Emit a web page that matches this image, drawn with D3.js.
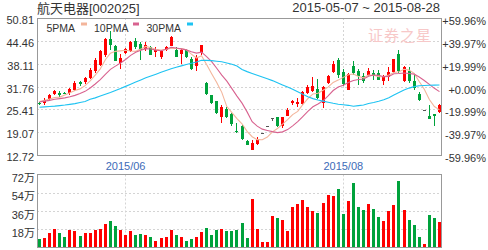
<!DOCTYPE html>
<html>
<head>
<meta charset="utf-8">
<style>
    body { margin: 0; background: #fff; }
    svg text { font-family: "Liberation Sans", Arial, "Noto Sans CJK SC", sans-serif; fill: #333; }
    .grid line { stroke: #d4d4d4; stroke-dasharray: 2,2; }
    .frame { fill: none; stroke: #999; }
</style>
<script src="https://cdn.jsdelivr.net/npm/d3@7"></script>
</head>
<body>
<svg width="488" height="250"></svg>
<script>
// trading days shown in the chart
var dates = [
    "2015-05-07","2015-05-08","2015-05-11","2015-05-12","2015-05-13","2015-05-14","2015-05-15","2015-05-18","2015-05-19","2015-05-20",
    "2015-05-21","2015-05-22","2015-05-25","2015-05-26","2015-05-27","2015-05-28","2015-05-29","2015-06-01","2015-06-02","2015-06-03",
    "2015-06-04","2015-06-05","2015-06-08","2015-06-09","2015-06-10","2015-06-11","2015-06-12","2015-06-15","2015-06-16","2015-06-17",
    "2015-06-18","2015-06-19","2015-06-23","2015-06-24","2015-06-25","2015-06-26","2015-06-29","2015-06-30","2015-07-01","2015-07-02",
    "2015-07-06","2015-07-07","2015-07-08","2015-07-09","2015-07-10","2015-07-13","2015-07-14","2015-07-15","2015-07-16","2015-07-17",
    "2015-07-20","2015-07-21","2015-07-22","2015-07-23","2015-07-24","2015-07-27","2015-07-28","2015-07-29","2015-07-30","2015-07-31",
    "2015-08-03","2015-08-04","2015-08-05","2015-08-06","2015-08-07","2015-08-10","2015-08-11","2015-08-12","2015-08-13","2015-08-14",
    "2015-08-17","2015-08-18","2015-08-19","2015-08-20","2015-08-21","2015-08-24","2015-08-25","2015-08-26","2015-08-27","2015-08-28"
];
var opens = [
    27.2,27.1,28.2,29.7,30.0,30.0,29.9,30.7,32.9,32.9, 34.1,36.2,37.8,40.6,45.1,42.9,38.3,41.2,41.5,44.5,
    43.6,42.3,42.7,41.4,39.9,41.8,43.1,42.0,40.8,41.8, 39.5,37.4,41.0,32.7,29.3,27.6,23.2,25.4,24.0,19.3,
    20.7,16.7,14.2,15.8,18.9,20.8,22.9,23.2,20.7,23.7, 27.2,26.9,26.9,30.0,30.6,31.2,27.2,32.7,35.8,39.0,
    35.7,30.9,37.4,36.2,34.6,34.9,35.5,35.5,33.2,34.3, 35.8,40.8,33.2,36.0,33.2,29.7,25.3,23.6,24.1,24.7
];
var highs = [
    27.4,28.6,29.7,30.8,30.4,30.3,31.3,33.2,33.2,34.5, 36.9,39.7,42.0,45.3,47.1,43.2,40.8,42.6,44.3,45.2,
    44.0,44.1,42.9,42.7,42.0,42.9,45.7,42.7,42.3,42.3, 39.9,40.6,43.4,32.9,29.5,27.8,26.5,26.0,24.3,21.6,
    21.1,17.0,17.0,17.6,18.9,20.8,22.9,23.4,23.4,25.8, 28.1,28.6,30.6,32.3,34.3,33.9,31.8,34.9,38.8,39.7,
    36.5,35.5,38.8,36.7,35.5,36.9,36.4,36.4,35.0,37.1, 39.5,42.0,37.4,37.1,34.9,30.2,25.3,26.6,24.1,26.8
];
var lows = [
    26.6,26.5,27.8,29.3,28.9,29.6,29.5,30.4,32.0,32.5, 33.8,35.5,37.4,40.1,42.0,38.8,36.7,40.8,41.4,42.3,
    39.2,41.5,40.4,40.1,39.5,41.5,42.9,40.0,38.1,39.7, 36.4,36.2,40.6,29.5,26.9,24.1,21.6,23.0,20.7,18.9,
    17.0,15.4,14.0,15.4,18.9,20.8,22.3,20.5,20.3,23.5, 26.5,26.2,26.5,29.7,30.2,28.4,25.8,32.5,35.5,34.1,
    32.0,30.7,35.0,32.3,32.7,34.6,33.7,33.7,32.3,33.4, 35.5,35.5,33.0,32.7,30.9,27.8,25.3,22.8,20.7,24.5
];
var closes = [
    26.9,28.0,29.3,30.4,29.5,29.8,31.0,32.7,32.5,34.0, 36.4,39.0,41.5,45.1,43.2,38.9,39.7,42.3,44.1,42.7,
    42.0,43.4,40.6,42.0,41.5,42.7,45.4,40.1,41.8,39.9, 36.7,39.9,43.2,29.7,27.2,24.4,26.2,23.4,21.2,19.0,
    17.2,15.6,16.0,17.2,18.9,20.8,22.9,20.7,23.2,25.3, 27.6,27.4,30.2,31.5,31.8,28.6,31.5,34.6,38.0,35.0,
    32.4,35.2,35.5,34.6,33.2,36.2,34.9,33.7,34.3,35.8, 39.5,36.0,37.1,33.2,31.3,28.1,25.3,22.8,23.5,26.6
];
// volume, in 万 (10k shares)
var volumes = [
    7.9,8.9,13.9,17.8,13.9,9.9,16.8,15.8,10.9,13.9, 13.9,16.8,17.8,22.8,25.7,20.8,16.8,11.9,15.8,11.9,
    12.9,11.9,9.9,6.9,8.9,9.9,16.8,11.9,9.9,6.9, 7.9,9.9,14.9,18.8,11.9,16.8,17.8,15.8,15.8,16.8,
    23.8,8.9,47.5,17.8,5.0,5.0,30.7,28.7,26.7,15.8, 39.6,42.6,46.5,39.6,35.6,33.7,43.6,51.5,50.5,57.4,
    32.7,45.5,63.4,39.6,36.6,42.6,37.6,29.7,25.7,35.6, 41.6,65.3,36.6,26.7,21.8,9.9,3.0,31.7,28.7,24.8
];
var ma5 = [
    27.6,27.9,28.3,28.7,28.82,29.4,30.0,30.68,31.1,32.0, 33.32,34.92,36.68,39.2,41.04,41.54,41.68,41.84,41.64,41.54,
    42.16,42.9,42.56,42.14,41.9,42.04,42.44,42.34,42.3,41.98, 40.78,39.68,40.3,37.88,35.34,32.88,30.14,26.18,24.48,22.84,
    21.4,19.28,17.8,17.0,16.98,17.7,19.16,20.1,21.3,22.58, 23.94,24.84,26.74,28.4,29.7,29.9,30.72,31.6,32.9,33.54,
    34.3,35.04,35.22,34.54,34.18,34.94,34.88,34.52,34.46,34.98, 35.64,35.86,36.54,36.32,35.42,33.14,31.0,28.14,26.2,25.26
];
var ma10 = [
    27.5,27.7,27.9,28.2,28.4,28.6,28.9,29.3,29.8,30.41, 31.36,32.46,33.68,35.15,36.52,37.43,38.3,39.26,40.42,41.29,
    41.85,42.29,42.2,41.89,41.72,42.1,42.67,42.45,42.22,41.94, 41.41,41.06,41.32,40.09,38.66,36.83,34.91,33.24,31.18,29.09,
    27.14,24.71,21.99,20.74,19.91,19.55,19.22,18.95,19.15,19.78, 20.82,22.0,23.42,24.85,26.14,26.92,27.78,29.17,30.65,31.62,
    32.1,32.88,33.41,33.72,33.86,34.62,34.96,34.87,34.5,34.58, 35.29,35.37,35.53,35.39,35.2,34.39,33.43,32.34,31.26,30.34
];
var ma30 = [
    25.98,26.1,26.2,26.3,26.45,26.6,26.8,27.0,27.3,27.6, 28.2,28.6,29.1,29.6,30.1,30.65,31.2,31.8,32.4,33.0,
    33.6,34.2,34.7,35.2,35.7,36.2,36.7,37.1,37.5,37.88, 38.21,38.6,39.07,39.04,38.97,38.79,38.63,38.32,37.94,37.44,
    36.5,35.9,35.4,34.9,34.4,33.9,33.4,32.8,32.2,31.6, 31.0,30.3,29.6,28.9,28.4,28.0,27.7,27.4,27.1,26.85,
    26.7,26.53,26.27,26.44,26.64,27.03,27.32,27.66,28.1,28.66, 29.4,30.08,30.79,31.32,31.73,31.98,32.06,32.13,32.14,32.18
];

// axis ticks and labels
var priceTicks = [12.72, 19.07, 25.41, 31.76, 38.11, 44.46, 50.81];
var pctLabels = ["-59.96%", "-39.97%", "-19.99%", "+0.00%", "+19.99%", "+39.97%", "+59.96%"];
var volTicks = [18, 36, 54, 72];
var xTickDates = ["2015-06-01", "2015-08-03"];
var xTickLabels = ["2015/06", "2015/08"];
var maNames = ["5PMA", "10PMA", "30PMA"];
var maColors = ["#f3b59b", "#d8628f", "#1ec3f2"];

var svg = d3.select("svg");
// plot box edges (avoid window.top)
var plotLeft = 37, plotRight = 442, plotTop = 18, plotBottom = 155;
var volTop = 174.5, volBottom = 247.5;

var x = d3.scaleBand().domain(dates).range([plotLeft, plotRight]).paddingInner(0.33).paddingOuter(0.165);
var cx = function(d) { return x(d) + x.bandwidth() / 2; };
var y = d3.scaleLinear().domain([12.72, 50.81]).range([plotBottom, plotTop]);
var yv = d3.scaleLinear().domain([0, 72]).range([volBottom, volTop]);

var candles = dates.map(function(d, i) {
    return {date: d, o: opens[i], h: highs[i], l: lows[i], c: closes[i], v: volumes[i]};
});
function candleColor(d) {
    if (d.c > d.o) return "#ff0000";
    if (d.c < d.o) return "#00a23c";
    return "#555";
}

// title
svg.append("text").attr("x", 37).attr("y", 12.5).style("font-size", "13px").text("航天电器[002025]");
svg.append("text").attr("x", 440).attr("y", 12).attr("text-anchor", "end").style("font-size", "13px")
    .text("2015-05-07 ~ 2015-08-28");

// grids
var grid = svg.append("g").attr("class", "grid");
grid.selectAll(".hy").data(priceTicks.slice(1, -1)).enter().append("line")
    .attr("x1", plotLeft).attr("x2", plotRight)
    .attr("y1", function(d) { return Math.round(y(d)) + 0.5; })
    .attr("y2", function(d) { return Math.round(y(d)) + 0.5; });
grid.selectAll(".hv").data(volTicks.slice(0, -1)).enter().append("line")
    .attr("x1", plotLeft).attr("x2", plotRight)
    .attr("y1", function(d) { return Math.round(yv(d)) + 0.5; })
    .attr("y2", function(d) { return Math.round(yv(d)) + 0.5; });
xTickDates.forEach(function(d) {
    var px = Math.floor(cx(d)) + 0.5;
    grid.append("line").attr("x1", px).attr("x2", px).attr("y1", plotTop).attr("y2", plotBottom);
    grid.append("line").attr("x1", px).attr("x2", px).attr("y1", volTop).attr("y2", volBottom);
});

// watermark
svg.append("text").attr("x", 368).attr("y", 41).style("font-size", "15px")
    .style("letter-spacing", "1px").style("fill", "#f7c8c8").text("证券之星");

// legend
var legendX = [46.5, 94, 146.5];
var legendSwatchX = [81, 133, 187];
maNames.forEach(function(name, i) {
    svg.append("text").attr("x", legendX[i]).attr("y", 31.5).style("font-size", "10.5px").text(name);
    svg.append("rect").attr("x", legendSwatchX[i]).attr("y", 22.5).attr("width", 6).attr("height", 3)
        .style("fill", maColors[i]);
});

// candles
var cg = svg.append("g").attr("shape-rendering", "crispEdges");
cg.selectAll(".wick").data(candles).enter().append("line")
    .attr("x1", function(d) { return Math.floor(cx(d.date)) + 0.5; })
    .attr("x2", function(d) { return Math.floor(cx(d.date)) + 0.5; })
    .attr("y1", function(d) { return y(d.h); })
    .attr("y2", function(d) { return y(d.l); })
    .style("stroke", candleColor);
cg.selectAll(".body").data(candles).enter().append("rect")
    .attr("x", function(d) { return Math.floor(cx(d.date)) - 1; })
    .attr("width", 3)
    .attr("y", function(d) { return y(Math.max(d.o, d.c)); })
    .attr("height", function(d) { return Math.max(1, y(Math.min(d.o, d.c)) - y(Math.max(d.o, d.c))); })
    .style("fill", candleColor);

// moving averages
[ma5, ma10, ma30].forEach(function(series, k) {
    var line = d3.line()
        .x(function(d, i) { return cx(dates[i]); })
        .y(function(d) { return y(d); });
    svg.append("path").datum(series).attr("d", line)
        .style("fill", "none").style("stroke", maColors[k]).style("stroke-width", 1.1);
});

// volume bars
svg.append("g").attr("shape-rendering", "crispEdges")
    .selectAll("rect").data(candles).enter().append("rect")
    .attr("x", function(d) { return Math.floor(cx(d.date)) - 1; })
    .attr("width", 3)
    .attr("y", function(d) { return yv(d.v); })
    .attr("height", function(d) { return volBottom - yv(d.v); })
    .style("fill", function(d) { return d.c >= d.o ? "#ff0000" : "#00a23c"; });

// frames
svg.append("rect").attr("class", "frame").attr("x", plotLeft + 0.5).attr("y", plotTop + 0.5)
    .attr("width", plotRight - plotLeft - 1).attr("height", plotBottom - plotTop);
svg.append("rect").attr("class", "frame").attr("x", plotLeft + 0.5).attr("y", volTop)
    .attr("width", plotRight - plotLeft - 1).attr("height", volBottom - volTop);

// axis labels
svg.selectAll(".pl").data(priceTicks).enter().append("text")
    .attr("x", 34).attr("y", function(d) { return y(d) + 6; })
    .attr("text-anchor", "end").style("font-size", "11px")
    .text(function(d) { return d.toFixed(2); });
svg.selectAll(".pr").data(priceTicks).enter().append("text")
    .attr("x", 486).attr("y", function(d) { return y(d) + 7; })
    .attr("text-anchor", "end").style("font-size", "11px")
    .text(function(d, i) { return pctLabels[i]; });
svg.selectAll(".vl").data(volTicks).enter().append("text")
    .attr("x", 35).attr("y", function(d) { return yv(d) + 7.5; })
    .attr("text-anchor", "end").style("font-size", "11px")
    .text(function(d) { return d + "万"; });
svg.selectAll(".xl").data(xTickDates).enter().append("text")
    .attr("x", function(d) { return cx(d); }).attr("y", 170)
    .attr("text-anchor", "middle").style("font-size", "11px").style("fill", "#3d6bb8")
    .text(function(d, i) { return xTickLabels[i]; });
</script>
</body>
</html>
